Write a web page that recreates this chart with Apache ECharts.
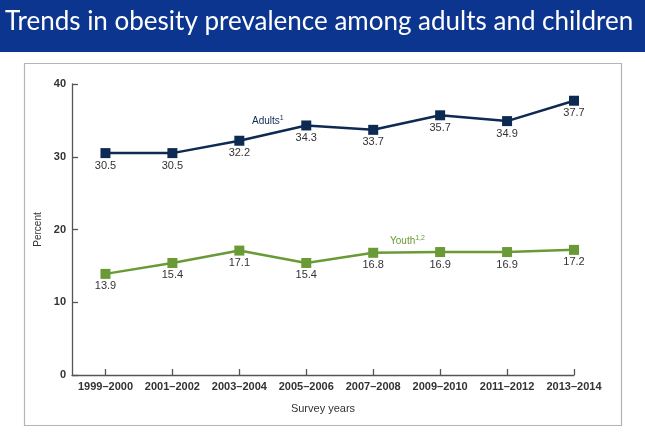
<!DOCTYPE html>
<html>
<head>
    <meta charset="utf-8">
    <title>Trends in obesity prevalence</title>
    <script src="https://cdn.jsdelivr.net/npm/echarts@6.0.0/dist/echarts.min.js"></script>
    <style>
        html, body {
            margin: 0;
            padding: 0;
            background: #ffffff;
        }
        #main {
            width: 645px;
            height: 439px;
        }
    </style>
</head>
<body>
<div id="main"></div>
<script>
    // survey periods on the x axis
    var years = ['1999–2000', '2001–2002', '2003–2004', '2005–2006', '2007–2008', '2009–2010', '2011–2012', '2013–2014'];
    // percent
    var adults = [30.5, 30.5, 32.2, 34.3, 33.7, 35.7, 34.9, 37.7];
    var youth = [13.9, 15.4, 17.1, 15.4, 16.8, 16.9, 16.9, 17.2];
    var yTicks = [0, 10, 20, 30, 40];

    var navy = '#0d2a52';
    var green = '#6a9a36';

    function toPairs(arr) {
        return arr.map(function (v, i) { return [i, v]; });
    }
    var idx = years.map(function (y, i) { return i; });

    var chart = echarts.init(document.getElementById('main'));

    var labelStyle = {
        show: true,
        position: 'bottom',
        distance: 2,
        fontFamily: 'Liberation Sans, Arial, sans-serif',
        fontSize: 11,
        color: '#333333',
        formatter: function (p) { return p.value[1].toFixed(1); }
    };

    var option = {
        animation: false,
        backgroundColor: '#ffffff',
        graphic: [
            {
                type: 'rect',
                shape: { x: 0, y: 0, width: 645, height: 52 },
                style: { fill: '#0c3590' },
                z: 0
            },
            {
                type: 'text',
                x: 5,
                y: 9,
                style: {
                    text: 'Trends in obesity prevalence among adults and children',
                    fill: '#ffffff',
                    font: '26px Lato, "Open Sans", sans-serif'
                }
            },
            {
                // panel border
                type: 'rect',
                shape: { x: 24.5, y: 63.5, width: 597, height: 362 },
                style: { fill: 'none', stroke: '#b4b4b4', lineWidth: 1.2 },
                z: 0
            },
            {
                type: 'text',
                x: 252,
                y: 115,
                style: {
                    text: 'Adults{s|1}',
                    fill: navy,
                    font: '10px "Liberation Sans", Arial, sans-serif',
                    rich: { s: { fontSize: 7, verticalAlign: 'top', fill: navy, padding: [0, 0, 5, 0] } }
                }
            },
            {
                type: 'text',
                x: 390,
                y: 235,
                style: {
                    text: 'Youth{s|1,2}',
                    fill: green,
                    font: '10px "Liberation Sans", Arial, sans-serif',
                    rich: { s: { fontSize: 7, verticalAlign: 'top', fill: green, padding: [0, 0, 5, 0] } }
                }
            }
        ],
        grid: {
            left: 72,
            right: 71,
            top: 84,
            bottom: 64
        },
        xAxis: {
            type: 'value',
            min: -0.5,
            max: 7,
            name: 'Survey years',
            nameLocation: 'middle',
            nameGap: 28,
            nameTextStyle: {
                fontFamily: 'Liberation Sans, Arial, sans-serif',
                fontSize: 11,
                color: '#333333'
            },
            splitLine: { show: false },
            axisLine: { onZero: false, lineStyle: { color: '#555555', width: 1.3 } },
            axisTick: {
                inside: true,
                length: 6,
                customValues: idx,
                lineStyle: { color: '#555555', width: 1.3 }
            },
            axisLabel: {
                customValues: idx,
                margin: 6,
                fontFamily: 'Liberation Sans, Arial, sans-serif',
                fontSize: 11,
                fontWeight: 'bold',
                color: '#333333',
                formatter: function (v) { return years[Math.round(v)]; }
            }
        },
        yAxis: {
            type: 'value',
            min: 0,
            max: 40,
            interval: 10,
            name: 'Percent',
            nameLocation: 'middle',
            nameRotate: 90,
            nameGap: 22,
            nameTextStyle: {
                fontFamily: 'Liberation Sans, Arial, sans-serif',
                fontSize: 10,
                color: '#333333'
            },
            splitLine: { show: false },
            axisLine: { show: true, onZero: false, lineStyle: { color: '#555555', width: 1.3 } },
            axisTick: {
                show: true,
                inside: true,
                length: 6,
                lineStyle: { color: '#555555', width: 1.3 }
            },
            axisLabel: {
                margin: 6,
                fontFamily: 'Liberation Sans, Arial, sans-serif',
                fontSize: 11,
                fontWeight: 'bold',
                color: '#333333',
                customValues: yTicks
            }
        },
        series: [
            {
                name: 'Adults',
                type: 'line',
                data: toPairs(adults),
                symbol: 'rect',
                symbolSize: 10,
                lineStyle: { color: navy, width: 2.5 },
                itemStyle: { color: navy },
                label: labelStyle
            },
            {
                name: 'Youth',
                type: 'line',
                data: toPairs(youth),
                symbol: 'rect',
                symbolSize: 10,
                lineStyle: { color: green, width: 2.5 },
                itemStyle: { color: green },
                label: labelStyle
            }
        ]
    };

    chart.setOption(option);
</script>
</body>
</html>
